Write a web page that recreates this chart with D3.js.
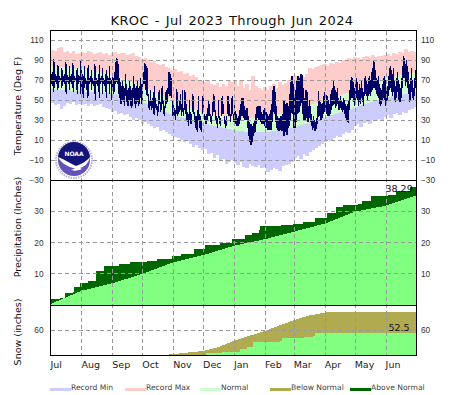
<!DOCTYPE html>
<html>
<head>
<meta charset="utf-8">
<script src="https://d3js.org/d3.v7.min.js"></script>
<style>
  html, body { margin: 0; padding: 0; background: #fff; }
  svg { display: block; font-family: "DejaVu Sans", sans-serif; }
  .tick-label { font-size: 8.3px; fill: #333; }
  .axis-title { font-size: 9.5px; fill: #111; text-anchor: middle; }
  .legend-label { font-size: 7.6px; fill: #444; }
  .grid { stroke: #999; stroke-width: 1; stroke-dasharray: 4 3; fill: none; shape-rendering: crispEdges; }
</style>
</head>
<body>
<svg id="chart" width="466" height="395"></svg>
<script>
// KROC climate summary, Jul 2023 - Jun 2024. All values.

const monthNames = ["Jul", "Aug", "Sep", "Oct", "Nov", "Dec", "Jan", "Feb", "Mar", "Apr", "May", "Jun"];
const monthStarts = [0, 31, 62, 92, 123, 153, 184, 215, 244, 275, 305, 336];
const totalDays = 366;

const tempTicks = [110, 90, 70, 50, 30, 10, -10, -30];
const precipTicks = [30, 20, 10];
const snowTicks = [60];

// records, one value every 3 days
const recordMax = [
  100, 99, 102, 103, 98, 99, 97, 99, 96, 97,
  98, 97, 99, 98, 96, 97, 98, 96, 97, 95,
  97, 98, 96, 97, 97, 95, 96, 97, 94, 93,
  91, 92, 90, 88, 89, 86, 85, 86, 83, 82,
  80, 81, 78, 79, 76, 77, 74, 75, 73, 70,
  69, 68, 70, 66, 65, 67, 63, 66, 64, 70, 68,
  69, 64, 70, 62, 66, 60, 74, 64, 62, 60,
  63, 60, 64, 66, 62, 68, 65, 67, 70, 72,
  74, 72, 74, 73, 76, 82, 81, 83, 84, 85,
  86, 84, 87, 86, 88, 87, 90, 89, 92, 91,
  93, 92, 91, 93, 94, 92, 95, 93, 94, 94,
  95, 96, 94, 97, 96, 98, 97, 101, 98, 99, 98,
];
const recordMin = [
  47, 45, 46, 41, 44, 47, 46, 48, 45, 46,
  45, 46, 44, 46, 44, 45, 46, 43, 42, 41,
  38, 39, 36, 37, 35, 36, 33, 30, 32, 30,
  26, 28, 26, 24, 22, 23, 19, 20, 18, 16,
  14, 13, 12, 10, 8, 9, 6, 3, 5, 2,
  0, 1, -4, -3, -8, -5, -11, -9, -14, -12, -10,
  -13, -15, -12, -17, -18, -14, -16, -17, -15, -18,
  -17, -22, -20, -18, -19, -21, -16, -15, -14, -12,
  -8, -6, -9, -4, -6, -2, 0, 2, 4, 6,
  8, 10, 9, 12, 14, 13, 16, 18, 17, 20,
  24, 26, 23, 27, 28, 26, 30, 29, 31, 30,
  33, 35, 32, 36, 37, 35, 38, 37, 40, 41, 43,
];

// normals, read at the month boundaries
const normalDays = [0, 31, 62, 92, 123, 153, 184, 200, 215, 244, 275, 305, 336, 366];
const normalHigh = [84, 82, 75, 64, 50, 37, 33, 32, 33, 40, 50, 60, 72, 78];
const normalLow = [61, 59, 57, 48, 35, 27, 20, 18, 18, 23, 33, 43, 53, 58];

// observed daily high / low, one row per month
const observedHigh = [
  76, 78, 91, 88, 76, 74, 85, 84, 74, 72, 82, 80, 74, 76, 88, 86, 75, 73, 84, 74, 76, 87, 85, 74, 72, 80, 82, 75, 74, 90, 84,
  76, 74, 84, 72, 70, 82, 85, 72, 74, 80, 72, 70, 86, 84, 72, 70, 76, 85, 72, 74, 82, 72, 70, 76, 80, 74, 72, 84, 72, 70, 76,
  72, 78, 88, 92, 91, 86, 72, 68, 64, 70, 64, 62, 76, 66, 60, 62, 70, 64, 60, 62, 74, 66, 62, 64, 70, 62, 64, 72, 66, 70,
  78, 87, 86, 84, 82, 56, 50, 60, 50, 52, 58, 64, 52, 46, 44, 58, 60, 48, 62, 64, 50, 44, 58, 60, 62, 78, 78, 76, 72, 50, 46,
  42, 40, 61, 58, 44, 50, 56, 46, 60, 42, 60, 58, 46, 38, 36, 50, 38, 36, 56, 54, 38, 34, 34, 40, 54, 36, 34, 30, 54, 56,
  36, 34, 36, 42, 50, 46, 36, 34, 48, 56, 54, 40, 34, 32, 50, 34, 32, 52, 54, 46, 34, 30, 34, 54, 54, 46, 36, 52, 54, 36, 50,
  39, 36, 32, 30, 34, 40, 46, 52, 52, 44, 38, 40, 42, 34, 28, 24, 26, 22, 24, 27, 30, 36, 43, 44, 40, 44, 38, 36, 34, 40, 42,
  38, 36, 34, 30, 36, 40, 46, 60, 64, 58, 44, 34, 32, 30, 32, 34, 30, 36, 50, 46, 40, 47, 44, 38, 56, 68, 74, 66, 50,
  54, 60, 70, 74, 66, 72, 76, 75, 62, 52, 50, 60, 58, 46, 44, 50, 44, 36, 30, 34, 30, 28, 32, 44, 59, 50, 48, 46, 47, 54, 58,
  48, 55, 54, 50, 46, 56, 60, 62, 70, 64, 60, 58, 62, 52, 50, 54, 50, 48, 52, 50, 46, 44, 46, 50, 60, 70, 73, 72, 68, 62,
  66, 72, 68, 60, 66, 62, 70, 62, 58, 72, 74, 70, 66, 72, 74, 70, 78, 82, 89, 88, 80, 72, 70, 74, 66, 62, 60, 66, 72, 74, 70,
  60, 64, 74, 82, 84, 80, 76, 82, 70, 64, 72, 78, 70, 66, 62, 72, 84, 94, 92, 86, 90, 84, 78, 66, 72, 82, 70, 62, 72, 80,
];
const observedLow = [
  66, 64, 58, 62, 68, 66, 60, 62, 68, 70, 62, 64, 68, 66, 58, 56, 68, 66, 60, 68, 66, 62, 58, 68, 70, 60, 56, 66, 68, 56, 62,
  56, 52, 62, 66, 60, 52, 54, 66, 68, 60, 66, 64, 56, 50, 66, 64, 58, 52, 66, 68, 56, 66, 64, 58, 52, 66, 66, 56, 66, 50, 60,
  56, 58, 66, 68, 66, 56, 52, 46, 46, 50, 48, 44, 54, 48, 44, 44, 50, 44, 42, 44, 52, 46, 42, 46, 48, 44, 46, 52, 46, 50,
  66, 66, 60, 55, 54, 42, 40, 44, 40, 42, 36, 35, 42, 40, 34, 38, 46, 38, 40, 46, 36, 34, 42, 46, 48, 56, 54, 54, 52, 34, 32,
  34, 30, 36, 34, 36, 38, 40, 34, 38, 34, 40, 36, 30, 28, 24, 30, 26, 26, 38, 36, 28, 22, 20, 18, 30, 22, 20, 18, 36, 38,
  30, 26, 26, 30, 34, 34, 28, 26, 34, 38, 38, 30, 26, 22, 32, 26, 24, 34, 36, 36, 26, 22, 24, 36, 34, 34, 28, 34, 36, 28, 32,
  27, 26, 24, 24, 26, 30, 34, 36, 34, 32, 30, 32, 30, 22, 14, 8, 5, 8, 14, 17, 18, 26, 32, 32, 30, 32, 28, 26, 26, 28, 24,
  22, 22, 20, 20, 22, 20, 28, 38, 40, 36, 28, 22, 20, 19, 20, 22, 19, 20, 14, 18, 20, 15, 22, 24, 30, 40, 37, 36, 22,
  22, 28, 36, 37, 38, 44, 48, 47, 36, 30, 30, 34, 32, 28, 28, 32, 28, 24, 20, 22, 19, 19, 21, 26, 33, 34, 30, 30, 32, 36, 38,
  38, 36, 34, 34, 34, 36, 40, 44, 45, 46, 42, 44, 46, 40, 40, 42, 40, 38, 40, 36, 32, 30, 28, 27, 40, 50, 52, 52, 48, 44,
  50, 52, 50, 44, 48, 46, 52, 48, 44, 54, 56, 54, 50, 54, 56, 54, 58, 60, 62, 62, 60, 56, 54, 52, 46, 44, 46, 50, 52, 50, 44,
  46, 50, 54, 60, 62, 58, 54, 58, 50, 48, 52, 58, 50, 48, 48, 52, 62, 72, 72, 64, 68, 62, 56, 48, 50, 58, 52, 50, 54, 62,
];

// accumulated precipitation: day of year, inches
const precipNormalDays = [0, 31, 62, 92, 123, 153, 184, 215, 244, 275, 305, 336, 366];
const precipNormal = [0.4, 4.6, 7, 10, 13.7, 16, 19, 21.1, 23.5, 26.1, 29.9, 31.8, 35];
const precipObsDays = [0, 9, 14, 22, 23, 29, 37, 45, 53, 68, 79, 96, 106, 121, 130, 143, 154, 169, 181, 195, 202, 209, 210, 231, 243, 253, 265, 277, 286, 293, 308, 312, 321, 338, 346, 360, 366];
const precipObs = [1.9, 2.3, 3.9, 4.3, 5.9, 6.9, 7.7, 10.9, 12.4, 13, 13.7, 14.1, 14.7, 15.7, 16.2, 17.9, 19.2, 19.8, 21, 22.4, 22.9, 24, 25.3, 25.6, 25.8, 26.7, 27.7, 29.3, 31.3, 32, 32.2, 33.3, 34.9, 35.2, 36.5, 37.9, 38.29];

// accumulated snow: day of year, inches
const snowNormalDays = [118, 136, 153, 167, 184, 215, 244, 259, 275, 279, 366];
const snowNormal = [1, 5.6, 9.6, 18.4, 34.4, 58.4, 84, 95, 101.6, 103.2, 103.2];
const snowObsDays = [150, 155, 171, 190, 197, 203, 230, 232, 254, 263, 265, 366];
const snowObs = [1, 4, 7.2, 14.4, 20, 31, 34.4, 40.8, 43.2, 45, 52.5, 52.5];

const legendNames = ["Record Min", "Record Max", "Normal", "Below Normal", "Above Normal"];
const legendColors = ["#ccccff", "#ffcccc", "#ccffcc", "#b0aa50", "#006600"];

const LEFT = 51, RIGHT = 416;
const svg = d3.select("#chart");
const x = d3.scaleLinear().domain([0, totalDays]).range([LEFT, RIGHT]);
const yTemp = d3.scaleLinear().domain([-30, 120]).range([180.3, 30.3]);
const yPrecip = d3.scaleLinear().domain([0, 40]).range([305, 180]);
const ySnow = d3.scaleLinear().domain([0, 120]).range([355, 305]);

// ---------------- temperature panel ----------------

const normalHighAt = d3.scaleLinear().domain(normalDays).range(normalHigh);
const normalLowAt = d3.scaleLinear().domain(normalDays).range(normalLow);
const recordStep = totalDays / recordMax.length;
const recordLayer = svg.append("g").attr("shape-rendering", "crispEdges");

recordLayer.selectAll("rect.max").data(recordMax).join("rect")
  .attr("class", "max")
  .attr("x", (d, i) => x(i * recordStep))
  .attr("width", x(recordStep) - x(0) + 0.5)
  .attr("y", (d) => yTemp(d))
  .attr("height", (d, i) => yTemp(normalHighAt(i * recordStep)) - yTemp(d) + 2)
  .attr("fill", "#ffcccc");

recordLayer.selectAll("rect.min").data(recordMin).join("rect")
  .attr("class", "min")
  .attr("x", (d, i) => x(i * recordStep))
  .attr("width", x(recordStep) - x(0) + 0.5)
  .attr("y", (d, i) => yTemp(normalLowAt(i * recordStep)) - 2)
  .attr("height", (d, i) => yTemp(d) - yTemp(normalLowAt(i * recordStep)) + 2)
  .attr("fill", "#ccccff");

svg.append("path")
  .datum(normalDays)
  .attr("fill", "#ccffcc")
  .attr("shape-rendering", "crispEdges")
  .attr("d", d3.area()
    .x((d) => x(d))
    .y0((d) => yTemp(normalLowAt(d)))
    .y1((d) => yTemp(normalHighAt(d))));

svg.append("g").attr("shape-rendering", "crispEdges")
  .selectAll("rect").data(observedHigh).join("rect")
  .attr("x", (d, i) => x(i))
  .attr("width", 1.2)
  .attr("y", (d) => yTemp(d))
  .attr("height", (d, i) => yTemp(observedLow[i]) - yTemp(d))
  .attr("fill", "#000066");

// ---------------- precipitation panel ----------------

svg.append("path")
  .attr("fill", "#006600")
  .attr("shape-rendering", "crispEdges")
  .attr("d", d3.area().curve(d3.curveStepAfter)
    .x((d) => x(d[0]))
    .y0(yPrecip(0))
    .y1((d) => yPrecip(d[1]))(d3.zip(precipObsDays, precipObs)));

svg.append("path")
  .attr("fill", "#80ff80")
  .attr("shape-rendering", "crispEdges")
  .attr("d", d3.area()
    .x((d) => x(d[0]))
    .y0(yPrecip(0))
    .y1((d) => yPrecip(d[1]))(d3.zip(precipNormalDays, precipNormal)));

// ---------------- snow panel ----------------

svg.append("path")
  .attr("fill", "#b0aa50")
  .attr("shape-rendering", "crispEdges")
  .attr("d", d3.area()
    .x((d) => x(d[0]))
    .y0(ySnow(0))
    .y1((d) => ySnow(d[1]))(d3.zip(snowNormalDays, snowNormal)));

svg.append("path")
  .attr("fill", "#80ff80")
  .attr("shape-rendering", "crispEdges")
  .attr("d", d3.area().curve(d3.curveStepAfter)
    .x((d) => x(d[0]))
    .y0(ySnow(0))
    .y1((d) => ySnow(d[1]))(d3.zip(snowObsDays, snowObs)));

// ---------------- grid, frame ----------------

const grid = svg.append("g").attr("class", "grid");
monthStarts.slice(1).forEach((d) => {
  grid.append("line").attr("x1", x(d)).attr("x2", x(d)).attr("y1", 31).attr("y2", 355);
});
tempTicks.slice(0, -1).forEach((t) => {
  grid.append("line").attr("x1", LEFT).attr("x2", RIGHT).attr("y1", yTemp(t)).attr("y2", yTemp(t));
});
precipTicks.forEach((t) => {
  grid.append("line").attr("x1", LEFT).attr("x2", RIGHT).attr("y1", yPrecip(t)).attr("y2", yPrecip(t));
});
snowTicks.forEach((t) => {
  grid.append("line").attr("x1", LEFT).attr("x2", RIGHT).attr("y1", ySnow(t)).attr("y2", ySnow(t));
});

const frame = svg.append("g").attr("stroke", "#000").attr("fill", "none");
frame.append("rect")
  .attr("x", LEFT - 0.5).attr("y", 30.5)
  .attr("width", RIGHT - LEFT + 1).attr("height", 325);
[180.5, 305.5].forEach((y) => {
  frame.append("line").attr("x1", LEFT).attr("x2", RIGHT).attr("y1", y).attr("y2", y);
});

// ---------------- axes: labels only, the grid is drawn above ----------------

function tickAxis(axisFn, scale, ticks, xPos) {
  const g = svg.append("g")
    .attr("transform", `translate(${xPos},0)`)
    .call(axisFn(scale).tickValues(ticks).tickSize(0).tickPadding(0).tickFormat(d3.format("d")));
  g.select(".domain").remove();
  g.selectAll("text").attr("class", "tick-label").attr("font-family", null).attr("font-size", null);
}
[[d3.axisLeft, 43.5], [d3.axisRight, 421]].forEach(([fn, xPos]) => {
  tickAxis(fn, yTemp, tempTicks, xPos);
  tickAxis(fn, yPrecip, precipTicks, xPos);
  tickAxis(fn, ySnow, snowTicks, xPos);
});

svg.append("g").selectAll("text").data(monthStarts).join("text")
  .attr("x", (d) => x(d) - 0.5)
  .attr("y", 368)
  .attr("font-size", 9.5)
  .attr("fill", "#222")
  .text((d, i) => monthNames[i]);

// ---------------- titles and annotations ----------------

svg.append("text")
  .attr("x", 232).attr("y", 25)
  .attr("text-anchor", "middle")
  .attr("font-size", 13)
  .attr("letter-spacing", 0.4)
  .attr("word-spacing", 1.3)
  .attr("fill", "#111")
  .text("KROC - Jul 2023 Through Jun 2024");

[["Temperature (Deg F)", 106], ["Precipitation (Inches)", 227], ["Snow (inches)", 332]].forEach(([label, cy]) => {
  svg.append("text")
    .attr("class", "axis-title")
    .attr("transform", `translate(21,${cy}) rotate(-90)`)
    .text(label);
});

svg.append("text").attr("x", 385.5).attr("y", 192).attr("font-size", 9.5).attr("fill", "#111")
  .text(d3.format(".2f")(precipObs[precipObs.length - 1]));
svg.append("text").attr("x", 388.5).attr("y", 331).attr("font-size", 9.5).attr("fill", "#111")
  .text(snowObs[snowObs.length - 1]);

// ---------------- legend ----------------

const legendOffsets = [50, 125, 200, 270, 350];
const legend = svg.append("g").selectAll("g").data(legendNames).join("g")
  .attr("transform", (d, i) => `translate(${legendOffsets[i]},0)`);
legend.append("rect")
  .attr("y", 388).attr("width", 21).attr("height", 3)
  .attr("fill", (d, i) => legendColors[i]);
legend.append("text")
  .attr("class", "legend-label")
  .attr("x", 21).attr("y", 390)
  .text((d) => d);

// ---------------- NOAA logo ----------------

const logo = svg.append("g").attr("transform", "translate(74,160)");
logo.append("circle").attr("r", 19).attr("fill", "#fff");
logo.append("circle").attr("r", 18).attr("fill", "none")
  .attr("stroke", "#b4b0dc").attr("stroke-width", 2).attr("stroke-dasharray", "1.5 1");
logo.append("circle").attr("r", 16).attr("fill", "#6552b8");
logo.append("path")
  .attr("d", "M-16,-2 A16,16 0 0 1 16,-2 C12,3 7,5 2,7 C-4,4 -10,-1 -16,-2 Z")
  .attr("fill", "#14147a");
logo.append("path")
  .attr("d", "M-16,-3 C-10,-1 -3,4 2,6 C8,4 13,1 16,-3 C15,3 10,7 6,8 L8,9 C4,11 -1,11 -3,10 L1,8.5 C-6,7 -13,3 -16,-3 Z")
  .attr("fill", "#fff");
logo.append("text")
  .attr("y", -4)
  .attr("text-anchor", "middle")
  .attr("font-size", 6)
  .attr("font-weight", "bold")
  .attr("fill", "#fff")
  .text("NOAA");
</script>
</body>
</html>
